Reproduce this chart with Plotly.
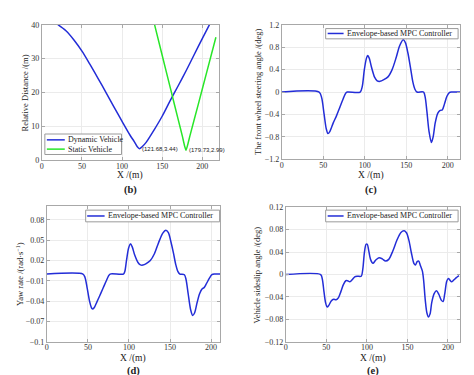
import plotly.graph_objects as go

# ---------------- data ----------------
# (b) relative distance
dyn_x = [20, 30, 40, 50, 60, 70, 80, 90, 100, 110, 115, 119, 121.68, 125, 130, 140, 150, 160, 170, 180, 190, 200, 209]
dyn_y = [40, 38.2, 35.5, 32.2, 28.3, 24.2, 20.0, 15.7, 11.5, 7.4, 5.6, 4.0, 3.44, 4.0, 5.3, 9.0, 13.0, 17.6, 22.0, 26.5, 31.2, 35.9, 40]
sta_x = [140.5, 150, 160, 170, 175, 178, 179.73, 181.5, 185, 195, 205, 217]
sta_y = [40, 31, 21.5, 12, 7.3, 4.2, 2.99, 4.3, 7.6, 16.5, 25.5, 36.3]
min_pts_x = [121.68, 179.73]
min_pts_y = [3.44, 2.99]
min_labels = ["(121.68,3.44)", "(179.73,2.99)"]

# (c) front wheel steering angle
c_x = [0, 45, 48, 51, 53.5, 55.6, 58, 62, 66, 70, 74, 77, 79, 94.5, 97, 99.5, 102, 103.6, 105.5, 108, 112, 115, 118.4,
       123, 128, 133, 138, 142, 146.4, 149, 152, 155, 158, 160.5, 163, 171, 173, 175, 177.5, 180.4, 182.5, 185, 188,
       190.5, 193.5, 196, 199, 202, 205, 215]
c_y = [0, 0, -0.1, -0.4, -0.65, -0.74, -0.70, -0.55, -0.42, -0.27, -0.12, -0.02, 0, 0, 0.1, 0.4, 0.6, 0.65, 0.6, 0.45,
       0.26, 0.2, 0.19, 0.22, 0.27, 0.40, 0.62, 0.82, 0.93, 0.88, 0.70, 0.45, 0.18, 0.05, 0, 0, -0.1, -0.35, -0.7, -0.9,
       -0.8, -0.55, -0.38, -0.33, -0.32, -0.22, -0.08, -0.01, 0, 0]

# (d) yaw rate
d_x = [0, 44, 46.5, 49, 52, 54.5, 56, 58, 61, 64, 68, 72, 75, 77, 93.3, 95, 97, 99.5, 101.8, 104, 107, 111, 114, 117,
       121, 126, 131, 136, 141, 145, 148, 151, 154, 157, 159.5, 162, 167.5, 169.5, 172, 175, 177.6, 180, 183, 186, 189,
       191.5, 194, 198, 201, 204, 211]
d_y = [0, 0, -0.005, -0.02, -0.04, -0.05, -0.0515, -0.049, -0.041, -0.033, -0.022, -0.011, -0.003, 0, 0, 0.004, 0.02,
       0.038, 0.0445, 0.04, 0.028, 0.017, 0.0135, 0.0133, 0.0155, 0.02, 0.03, 0.046, 0.06, 0.0646, 0.061, 0.048, 0.032,
       0.014, 0.004, 0, -0.001, -0.008, -0.028, -0.052, -0.061, -0.057, -0.042, -0.029, -0.022, -0.02, -0.015, -0.006,
       -0.001, 0, 0]

# (e) vehicle sideslip angle
e_x = [0, 43, 45, 47, 49, 51, 53, 56, 59, 62, 65, 68, 71, 74, 76, 79, 82, 85, 88, 93, 95, 97, 99, 100.5, 102, 104.5,
       107.5, 111, 115, 119, 123, 127, 132, 137, 142, 146, 149, 152, 155, 158, 160, 162, 164, 166, 168.5, 170, 172, 174,
       176, 178, 180, 183, 186, 189, 192, 194, 196, 198.5, 200.5, 202.5, 204.5, 207, 210, 213.6]
e_y = [0, 0, -0.008, -0.03, -0.05, -0.058, -0.055, -0.047, -0.044, -0.045, -0.041, -0.03, -0.018, -0.011, -0.011,
       -0.013, -0.009, -0.004, -0.003, -0.003, 0.01, 0.04, 0.054, 0.054, 0.045, 0.027, 0.020, 0.026, 0.030, 0.028, 0.024,
       0.027, 0.042, 0.061, 0.075, 0.078, 0.074, 0.06, 0.038, 0.02, 0.017, 0.023, 0.024, 0.016, 0.006, -0.01, -0.045,
       -0.068, -0.0755, -0.07, -0.05, -0.034, -0.029, -0.036, -0.046, -0.048, -0.035, -0.012, -0.007, -0.01, -0.013,
       -0.01, -0.006, -0.002]

x_ticks = [0, 50, 100, 150, 200]
b_yticks = [0, 10, 20, 30, 40]
c_yticks = [-1.2, -0.8, -0.4, 0, 0.4, 0.8, 1.2]
c_yticktext = ["\u22121.2", "\u22120.8", "\u22120.4", "0", "0.4", "0.8", "1.2"]
d_yticks = [-0.1, -0.07, -0.04, -0.01, 0.02, 0.05, 0.08]
d_yticktext = ["\u22120.1", "\u22120.07", "\u22120.04", "\u22120.01", "0.02", "0.05", "0.08"]
e_yticks = [-0.12, -0.08, -0.04, 0, 0.04, 0.08, 0.12]
e_yticktext = ["\u22120.12", "\u22120.08", "\u22120.04", "0", "0.04", "0.08", "0.12"]

# ---------------- style ----------------
BLUE = "rgb(35,45,215)"
GREEN = "rgb(40,230,40)"
SERIF = "Liberation Serif, Times New Roman, serif"
W, H = 474, 375


def ax(domain, rng, **kw):
    d = dict(domain=domain, range=rng, showline=True, mirror="ticks", linecolor="#a8a8a8", linewidth=1,
             ticks="inside", ticklen=3, tickcolor="#a8a8a8", showgrid=True, gridcolor="#ebebeb", gridwidth=1,
             zeroline=False, fixedrange=True, tickfont=dict(family=SERIF, size=8, color="#333"))
    d.update(kw)
    return d


def dx(a, b):
    return [a / W, b / W]


def dy(top, bottom):
    return [1 - bottom / H, 1 - top / H]


fig = go.Figure()
fig.add_trace(go.Scatter(x=dyn_x, y=dyn_y, mode="lines", name="Dynamic Vehicle",
                         line=dict(color=BLUE, width=1.5, shape="spline", smoothing=0.8), xaxis="x", yaxis="y"))
fig.add_trace(go.Scatter(x=sta_x, y=sta_y, mode="lines", name="Static Vehicle",
                         line=dict(color=GREEN, width=1.5, shape="spline", smoothing=0.6), xaxis="x", yaxis="y"))
fig.add_trace(go.Scatter(x=c_x, y=c_y, mode="lines", name="Envelope-based MPC Controller",
                         line=dict(color=BLUE, width=1.5, shape="spline", smoothing=0.8), xaxis="x2", yaxis="y2"))
fig.add_trace(go.Scatter(x=d_x, y=d_y, mode="lines", name="Envelope-based MPC Controller",
                         line=dict(color=BLUE, width=1.5, shape="spline", smoothing=0.8), xaxis="x3", yaxis="y3"))
fig.add_trace(go.Scatter(x=e_x, y=e_y, mode="lines", name="Envelope-based MPC Controller",
                         line=dict(color=BLUE, width=1.5, shape="spline", smoothing=0.8), xaxis="x4", yaxis="y4"))

fig.update_layout(
    width=W, height=H, margin=dict(l=0, r=0, t=0, b=0), paper_bgcolor="white", plot_bgcolor="white",
    showlegend=False,
    xaxis=ax(dx(32, 210), [0, 221], tickvals=x_ticks, anchor="y"),
    yaxis=ax(dy(13, 152), [0, 40], tickvals=b_yticks, anchor="x"),
    xaxis2=ax(dx(273, 452), [0, 215], tickvals=x_ticks, anchor="y2"),
    yaxis2=ax(dy(13, 151), [-1.2, 1.2], tickvals=c_yticks, ticktext=c_yticktext, anchor="x2"),
    xaxis3=ax(dx(37, 211), [0, 211], tickvals=x_ticks, anchor="y3"),
    yaxis3=ax(dy(199, 338), [-0.1, 0.1], tickvals=d_yticks, ticktext=d_yticktext, anchor="x3"),
    xaxis4=ax(dx(277, 452), [0, 215], tickvals=x_ticks, anchor="y4"),
    yaxis4=ax(dy(200, 338), [-0.12, 0.12], tickvals=e_yticks, ticktext=e_yticktext, anchor="x4"),
)

try:
    fig.update_xaxes(ticklabelstandoff=-2)
except Exception:
    pass

# ---- hand-drawn legend boxes (compact, like the reference) ----
legends = [
    # box (x0, y0, x1, y1) in px, line x-span, entries: (line y px, colour, text)
    ((35, 125, 112, 146), 37, 55, [(131, BLUE, "Dynamic Vehicle"), (140.5, GREEN, "Static Vehicle")]),
    ((317, 17, 450, 27.5), 319, 335, [(22, BLUE, "Envelope-based MPC Controller")]),
    ((76, 203, 210.5, 215), 77.5, 95, [(209, BLUE, "Envelope-based MPC Controller")]),
    ((317, 203, 450, 215), 319, 335, [(209, BLUE, "Envelope-based MPC Controller")]),
]
for (x0, y0, x1, y1), lx0, lx1, entries in legends:
    fig.add_shape(type="rect", xref="paper", yref="paper", x0=x0 / W, x1=x1 / W, y0=1 - y0 / H, y1=1 - y1 / H,
                  line=dict(color="#9a9a9a", width=1), fillcolor="white", layer="above")
    for ly, col, txt in entries:
        fig.add_shape(type="line", xref="paper", yref="paper", x0=lx0 / W, x1=lx1 / W, y0=1 - ly / H, y1=1 - ly / H,
                      line=dict(color=col, width=1.5), layer="above")
        fig.add_annotation(x=(lx1 + 1.5) / W, y=1 - ly / H, xref="paper", yref="paper", text=txt, showarrow=False,
                           xanchor="left", yanchor="middle", font=dict(family=SERIF, size=8, color="#222"))

# min-point labels in (b)
for px_, py_, t in zip(min_pts_x, min_pts_y, min_labels):
    fig.add_annotation(x=px_, y=py_, xref="x", yref="y", text=t, showarrow=False, xanchor="left", yanchor="middle",
                       xshift=1, font=dict(family="Liberation Sans", size=6, color="#222"))

# axis titles and panel letters
titles = [
    ((32 + 210) / 2, 168, "X /(m)", "(b)", 182),
    ((273 + 452) / 2, 168, "X /(m)", "(c)", 182),
    ((37 + 211) / 2, 355, "X /(m)", "(d)", 368),
    ((277 + 452) / 2, 355, "X /(m)", "(e)", 368),
]
for cx, ty, t, letter, ly in titles:
    fig.add_annotation(x=cx / W, y=1 - ty / H, xref="paper", yref="paper", text=t, showarrow=False,
                       xanchor="center", yanchor="middle", font=dict(family=SERIF, size=9.5, color="#222"))
    fig.add_annotation(x=cx / W, y=1 - ly / H, xref="paper", yref="paper", text="<b>" + letter + "</b>",
                       showarrow=False, xanchor="center", yanchor="middle",
                       font=dict(family=SERIF, size=10.5, color="#222"))

ytitles = [
    (15, (13 + 152) / 2, "Relative Distance /(m)"),
    (249, (13 + 151) / 2, "The front wheel steering angle /(deg)"),
    (10, (199 + 338) / 2, "Yaw rate /(rad\u00b7s<sup>\u22121</sup>)"),
    (248, (200 + 338) / 2, "Vehicle sideslip angle /(deg)"),
]
for xx, yy, t in ytitles:
    fig.add_annotation(x=xx / W, y=1 - yy / H, xref="paper", yref="paper", text=t, showarrow=False, textangle=-90,
                       xanchor="center", yanchor="middle", font=dict(family=SERIF, size=8.5, color="#222"))

fig.write_html("out.html")
